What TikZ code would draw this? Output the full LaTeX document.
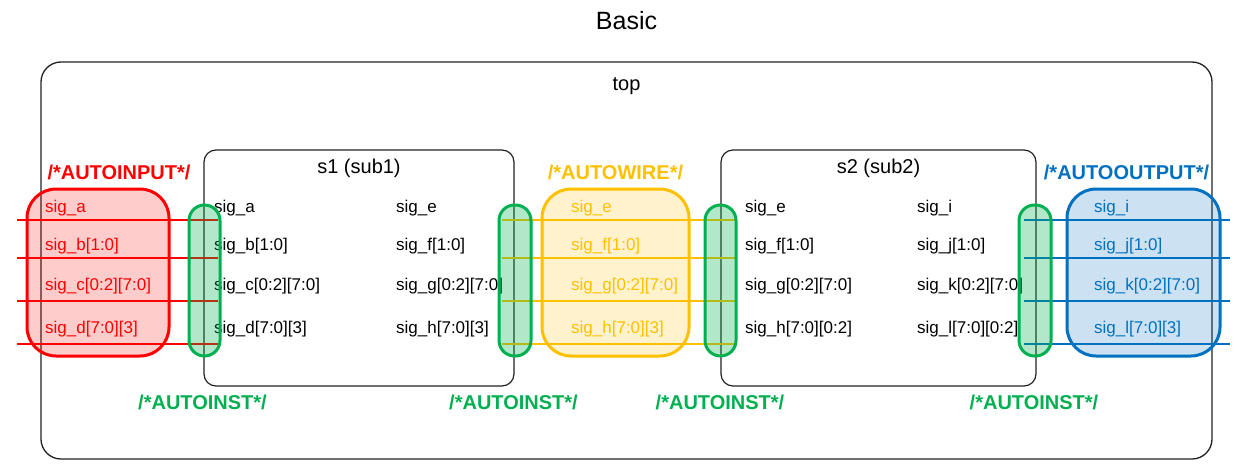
\documentclass[tikz,border=0pt]{standalone}
\usepackage{fontspec}
\setmainfont{Liberation Sans}
\definecolor{cred}{HTML}{FF0000}
\definecolor{cyel}{HTML}{FFC000}
\definecolor{cblu}{HTML}{0070C0}
\definecolor{cgrn}{HTML}{00B050}
\definecolor{cfrm}{HTML}{222222}
\begin{document}
\begin{tikzpicture}[x=1pt,y=-1pt,
  titletext/.style={font=\fontsize{25}{30}\selectfont, anchor=base, inner sep=0pt},
  boxtitle/.style={font=\fontsize{20}{24}\selectfont, anchor=base, inner sep=0pt},
  sigtext/.style={font=\fontsize{17}{20}\selectfont, anchor=base west, inner sep=0pt},
  tagtext/.style={font=\bfseries\fontsize{20}{24}\selectfont, anchor=base, inner sep=0pt},
  frame/.style={draw=cfrm, line width=1.3pt, rounded corners=20pt, inner sep=0pt},
  module/.style={draw=cfrm, line width=1.2pt, rounded corners=12pt, inner sep=0pt},
  grp/.style={line width=3pt, rounded corners=29pt, inner sep=0pt, minimum height=167pt},
  redgrp/.style={grp, draw=cred, fill=cred, fill opacity=0.2},
  yelgrp/.style={grp, draw=cyel, fill=cyel, fill opacity=0.2},
  blugrp/.style={grp, draw=cblu, fill=cblu, fill opacity=0.2},
  inst/.style={draw=cgrn, fill=cgrn, fill opacity=0.3, line width=3pt, rounded corners=15.5pt, inner sep=0pt, minimum height=151pt},
  wire/.style={line width=1.4pt}
]
\useasboundingbox (0,0) rectangle (1245,471);

% title
\node[titletext] (title) at (626.5,29) {Basic};

% frames
\node[frame, minimum width=1171pt, minimum height=397pt] (top) at (626.5,260.5) {};
\node[boxtitle] (toplbl) at (626.5,90.5) {top};

\node[module, minimum width=310pt, minimum height=236pt] (s1) at (359,268) {};
\node[boxtitle] (s1lbl) at (359,173) {s1 (sub1)};
\node[module, minimum width=315pt, minimum height=236pt] (s2) at (878.5,268) {};
\node[boxtitle] (s2lbl) at (878.5,173) {s2 (sub2)};

% groups
\node[redgrp, minimum width=142pt] (gin) at (98,272.5) {};
\node[yelgrp, minimum width=147pt] (gwire) at (615.5,272.5) {};
\node[blugrp, minimum width=153pt] (gout) at (1143.5,272.5) {};

\node[tagtext, text=cred] (tin) at (119,179.5) {/*AUTOINPUT*/};
\node[tagtext, text=cyel] (twire) at (615.5,179.5) {/*AUTOWIRE*/};
\node[tagtext, text=cblu] (tout) at (1126.5,179.5) {/*AUTOOUTPUT*/};

% wires
\foreach \i/\y in {1/220,2/258,3/301,4/344}{
  \coordinate (ra\i) at (17,\y);   \coordinate (rb\i) at (218,\y);
  \coordinate (ya\i) at (502,\y);  \coordinate (yb\i) at (735,\y);
  \coordinate (ba\i) at (1024,\y); \coordinate (bb\i) at (1230,\y);
  \draw[wire, cred] (ra\i) -- (rb\i);
  \draw[wire, cyel] (ya\i) -- (yb\i);
  \draw[wire, cblu] (ba\i) -- (bb\i);
}

% signal texts
\node[sigtext, text=cred] (ia) at (45,212) {sig\_a};
\node[sigtext, text=cred] (ib) at (45,250) {sig\_b[1:0]};
\node[sigtext, text=cred] (ic) at (45,290.5) {sig\_c[0:2][7:0]};
\node[sigtext, text=cred] (id) at (45,333) {sig\_d[7:0][3]};

\node[sigtext] (s1a) at (214,212) {sig\_a};
\node[sigtext] (s1b) at (214,250) {sig\_b[1:0]};
\node[sigtext] (s1c) at (214,290.5) {sig\_c[0:2][7:0]};
\node[sigtext] (s1d) at (214,333) {sig\_d[7:0][3]};
\node[sigtext] (s1e) at (396,212) {sig\_e};
\node[sigtext] (s1f) at (396,250) {sig\_f[1:0]};
\node[sigtext] (s1g) at (396,290.5) {sig\_g[0:2][7:0]};
\node[sigtext] (s1h) at (396,333) {sig\_h[7:0][3]};

\node[sigtext, text=cyel] (we) at (571,212) {sig\_e};
\node[sigtext, text=cyel] (wf) at (571,250) {sig\_f[1:0]};
\node[sigtext, text=cyel] (wg) at (571,290.5) {sig\_g[0:2][7:0]};
\node[sigtext, text=cyel] (wh) at (571,333) {sig\_h[7:0][3]};

\node[sigtext] (s2e) at (745,212) {sig\_e};
\node[sigtext] (s2f) at (745,250) {sig\_f[1:0]};
\node[sigtext] (s2g) at (745,290.5) {sig\_g[0:2][7:0]};
\node[sigtext] (s2h) at (745,333) {sig\_h[7:0][0:2]};
\node[sigtext] (s2i) at (917,212) {sig\_i};
\node[sigtext] (s2j) at (917,250) {sig\_j[1:0]};
\node[sigtext] (s2k) at (917,290.5) {sig\_k[0:2][7:0]};
\node[sigtext] (s2l) at (917,333) {sig\_l[7:0][0:2]};

\node[sigtext, text=cblu] (oi) at (1094,212) {sig\_i};
\node[sigtext, text=cblu] (oj) at (1094,250) {sig\_j[1:0]};
\node[sigtext, text=cblu] (ok) at (1094,290.5) {sig\_k[0:2][7:0]};
\node[sigtext, text=cblu] (ol) at (1094,333) {sig\_l[7:0][3]};

% instance connections
\node[inst, minimum width=31pt] (inst1) at (204.5,280.5) {};
\node[inst, minimum width=32pt] (inst2) at (515,280.5) {};
\node[inst, minimum width=31pt] (inst3) at (720.5,280.5) {};
\node[inst, minimum width=32pt] (inst4) at (1035,280.5) {};

\node[tagtext, text=cgrn] (ti1) at (202.5,409) {/*AUTOINST*/};
\node[tagtext, text=cgrn] (ti2) at (513.5,409) {/*AUTOINST*/};
\node[tagtext, text=cgrn] (ti3) at (720,409) {/*AUTOINST*/};
\node[tagtext, text=cgrn] (ti4) at (1034,409) {/*AUTOINST*/};
\end{tikzpicture}
\end{document}
